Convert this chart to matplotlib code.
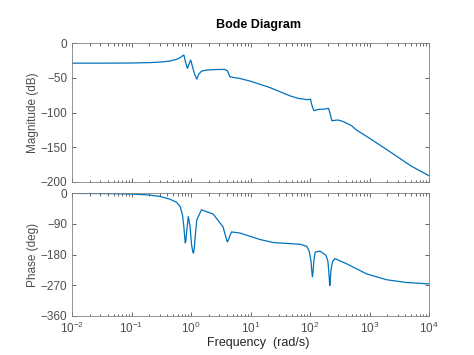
import numpy as np
import matplotlib
matplotlib.use("Agg")
import matplotlib.pyplot as plt
from matplotlib.ticker import LogLocator, NullFormatter

# magnitude (rad/s, dB)
mag_freq = [0.01, 0.03, 0.1, 0.2, 0.3, 0.44, 0.57, 0.66, 0.72, 0.76,
            0.8, 0.87, 0.92, 0.99, 1.05, 1.15, 1.25, 1.35, 1.5, 1.8,
            2.5, 3.7, 4.1, 4.5, 5.5, 6.6, 10, 21, 46, 63,
            90, 102, 108, 116, 140, 180, 204, 215, 233, 295,
            362, 500, 600, 1000, 2000, 5000, 10000]
mag_db = [-29, -29, -28.8, -28.2, -27.5, -26, -23.5, -21, -18.5, -17.3,
          -26, -36.5, -31, -24.5, -33, -45, -52, -45, -40.5, -39,
          -38.2, -38, -40, -48.5, -50, -51, -55, -64, -76, -79.6,
          -81.5, -81, -90, -97.4, -95.5, -95, -94, -100, -111.8, -110.8,
          -113, -119, -125, -137, -154, -177, -191]

# phase (rad/s, deg)
ph_freq = [0.01, 0.05, 0.1, 0.2, 0.3, 0.44, 0.57, 0.66, 0.72, 0.76,
           0.78, 0.8, 0.82, 0.85, 0.9, 0.96, 1.02, 1.07, 1.1, 1.13,
           1.18, 1.25, 1.5, 2.37, 3.45, 3.8, 4.0, 4.1, 4.3, 4.5,
           4.8, 6.6, 14.4, 24, 68, 88, 97, 104, 108, 110,
           112, 116, 122, 147, 185, 200, 208, 213, 215, 218,
           225, 240, 263, 410, 900, 1950, 4200, 10000]
ph_deg = [-1, -2, -3, -6, -10, -18, -27, -40, -65, -100,
          -125, -146, -140, -110, -69, -95, -150, -172, -176, -165,
          -125, -79, -49, -62, -99, -125, -140, -143, -135, -125,
          -114, -117, -136, -145, -150, -156, -170, -200, -235, -245,
          -235, -200, -173, -170, -182, -200, -235, -262, -271, -262,
          -225, -200, -192, -207, -237, -254, -262, -266]

line_color = "#0072BD"
gray = "#4d4d4d"
plt.rcParams["font.family"] = ["Liberation Sans", "DejaVu Sans"]
plt.rcParams["font.size"] = 8

fig = plt.figure(figsize=(4.74, 3.55), dpi=100)
ax1 = fig.add_axes([72 / 474, 1 - 182 / 355, 357 / 474, 139 / 355])
ax2 = fig.add_axes([72 / 474, 1 - 316 / 355, 357 / 474, 123 / 355])

ax1.semilogx(mag_freq, mag_db, color=line_color, lw=0.9)
ax2.semilogx(ph_freq, ph_deg, color=line_color, lw=0.9)

ax1.set_ylim(-200, 0)
ax1.set_yticks([0, -50, -100, -150, -200])
ax2.set_ylim(-360, 0)
ax2.set_yticks([0, -90, -180, -270, -360])

for ax in (ax1, ax2):
    ax.set_xlim(1e-2, 1e4)
    ax.xaxis.set_major_locator(LogLocator(base=10, numticks=10))
    ax.xaxis.set_minor_locator(LogLocator(base=10, subs=np.arange(2, 10), numticks=10))
    ax.xaxis.set_minor_formatter(NullFormatter())
    ax.tick_params(which="both", direction="in", top=True, right=True,
                   colors=gray, labelcolor=gray, labelsize=8.5, width=0.6)
    ax.tick_params(which="major", length=3)
    ax.tick_params(which="minor", length=1.8)
    for s in ax.spines.values():
        s.set_color("#808080")
        s.set_linewidth(0.6)

ax1.tick_params(labelbottom=False)
ax1.set_ylabel("Magnitude (dB)", color=gray, fontsize=8.5)
ax2.set_ylabel("Phase (deg)", color=gray, fontsize=8.5)
ax1.yaxis.set_label_coords(-0.092, 0.5)
ax2.yaxis.set_label_coords(-0.092, 0.5)

fig.text(258 / 474, 1 - 343 / 355, "Frequency  (rad/s)", ha="center", va="center",
         fontsize=9, color="#262626")
fig.text(258 / 474, 1 - 25 / 355, "Bode Diagram", ha="center", va="center",
         fontsize=9, fontweight="bold", color="black")

fig.savefig("out.png", dpi=100)
